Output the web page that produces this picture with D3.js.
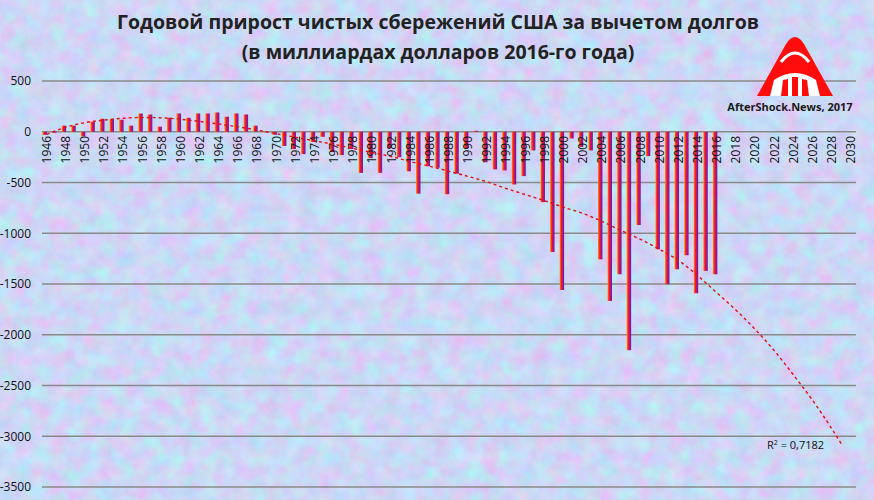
<!DOCTYPE html>
<html>
<head>
<meta charset="utf-8">
<script src="https://cdn.jsdelivr.net/npm/d3@7"></script>
<style>
  html, body { margin: 0; padding: 0; background: #ccd6f2; }
  svg { display: block; }
</style>
</head>
<body>
<svg id="chart" width="874" height="500"></svg>
<script>
// ---- data ----
const years = d3.range(1946, 2017);
const values = [
  -30, -10, 60, 60, -45, 100, 128, 125, 118, 60,
  180, 170, 50, 138, 180, 138, 180, 180, 190, 148,
  180, 170, 60, -5, -30, -140, -170, -220, -100, -50,
  -200, -230, -170, -405, -260, -405, -160, -250, -390, -610,
  -340, -355, -615, -413, -160, 10, -300, -371, -381, -519,
  -437, -184, -693, -1185, -1559, -66, -150, -184, -1257, -1667,
  -1404, -2152, -919, -240, -1158, -1503, -1355, -1217, -1591, -1371,
  -1404
];
const axisYears = d3.range(1946, 2031);           // categories on the axis
const xTickLabels = d3.range(1946, 2031, 2);
const yTicks = [500, 0, -500, -1000, -1500, -2000, -2500, -3000, -3500];
const trendYears = [1946,1948,1950,1952,1954,1956,1958,1960,1962,1964,1966,1968,1970,1972,1974,1976,1978,1980,1982,1984,1986,1988,1990,1992,1994,1996,1998,2000,2002,2004,2006,2008,2010,2012,2014,2016,2018,2020,2022,2024,2026,2028,2029];
const trendValues = [-25,45,90,115,133,141,137,123,101,76,48,16,-20,-55,-90,-125,-165,-205,-245,-295,-340,-390,-440,-495,-560,-620,-680,-745,-805,-885,-975,-1060,-1160,-1270,-1420,-1590,-1760,-1950,-2160,-2400,-2650,-2930,-3080];
const titleLines = ["Годовой прирост чистых сбережений США за вычетом долгов", "(в миллиардах долларов 2016-го года)"];
const r2Label = "0,7182";
const credit = "AfterShock.News, 2017";

// ---- drawing ----
(function () {
const svg = d3.select("#chart");
const W = 874, H = 500;
const pLeft = 42, pRight = 856, pTop = 81, pBottom = 487;

const defs = svg.append("defs");
const tex = defs.append("filter").attr("id", "tex").attr("x", 0).attr("y", 0).attr("width", 1).attr("height", 1)
  .attr("color-interpolation-filters", "sRGB");
tex.append("feTurbulence").attr("type", "fractalNoise").attr("baseFrequency", 0.06).attr("numOctaves", 3).attr("seed", 7);
tex.append("feColorMatrix").attr("type", "matrix")
  .attr("values", "0.3 0 0 0 0.65  -0.2 0.15 0 0 0.87  0 0 0.1 0 0.91  0 0 0 0 1");

const grad = defs.append("linearGradient").attr("id", "barGrad").attr("x1", "0%").attr("x2", "100%").attr("y1", "0%").attr("y2", "0%");
[["0%", "#ff9a00"], ["22%", "#ff4a08"], ["45%", "#f00a48"], ["70%", "#a8168a"], ["100%", "#5820aa"]].forEach(([o, c]) =>
  grad.append("stop").attr("offset", o).attr("stop-color", c));

svg.append("rect").attr("width", W).attr("height", H).attr("fill", "#ccd6f2");
svg.append("rect").attr("width", W).attr("height", H).attr("filter", "url(#tex)");

const x = d3.scaleBand().domain(axisYears).range([pLeft, pRight]).padding(0);
const y = d3.scaleLinear().domain([-3500, 500]).range([pBottom, pTop]);

// gridlines
svg.append("g").selectAll("line").data(yTicks).join("line")
  .attr("x1", pLeft).attr("x2", pRight)
  .attr("y1", d => y(d)).attr("y2", d => y(d))
  .attr("stroke", "#8a8a8a").attr("stroke-width", 1.4);

// y labels
const yAxis = d3.axisLeft(y).tickValues(yTicks).tickSize(0).tickPadding(0).tickFormat(d => String(d));
const gy = svg.append("g").attr("transform", `translate(31,0)`).call(yAxis);
gy.select(".domain").remove();
gy.selectAll("text").attr("font-family", "'Open Sans', sans-serif").attr("font-size", 12).attr("fill", "#111");

// bars
const bw = x.bandwidth();
svg.append("g").selectAll("rect").data(years.map((yr, i) => ({ yr, v: values[i] }))).join("rect")
  .attr("x", d => x(d.yr) + bw * 0.06)
  .attr("width", bw * 0.46)
  .attr("y", d => y(Math.max(0, d.v)))
  .attr("height", d => Math.abs(y(d.v) - y(0)))
  .attr("fill", "url(#barGrad)");

// x labels (rotated)
const gx = svg.append("g");
gx.selectAll("text").data(xTickLabels).join("text")
  .attr("transform", d => `translate(${x(d) + bw / 2 + 4},136) rotate(-90)`)
  .attr("text-anchor", "end")
  .attr("font-family", "'Open Sans', sans-serif").attr("font-size", 12).attr("fill", "#111")
  .text(d => d);

// trend line
const line = d3.line().x(d => x(d[0]) + bw / 2).y(d => y(d[1])).curve(d3.curveMonotoneX);
svg.append("path").datum(trendYears.map((yr, i) => [yr, trendValues[i]]))
  .attr("d", line).attr("fill", "none").attr("stroke", "#e01010").attr("stroke-width", 1.4)
  .attr("stroke-dasharray", "3,3");

// R² label
const r2 = svg.append("text").attr("x", 767).attr("y", 449)
  .attr("font-family", "'Open Sans', sans-serif").attr("font-size", 11).attr("fill", "#111");
r2.append("tspan").text("R");
r2.append("tspan").attr("font-size", 7).attr("dy", -4).text("2");
r2.append("tspan").attr("dy", 4).text(" = " + r2Label);

// title
svg.append("g").selectAll("text").data(titleLines).join("text")
  .attr("x", 438).attr("y", (d, i) => 29 + i * 30)
  .attr("text-anchor", "middle")
  .attr("font-family", "'Open Sans', sans-serif").attr("font-weight", "bold").attr("font-size", 19.5)
  .attr("fill", "#222").text(d => d);

// logo
const logo = svg.append("g");
logo.append("path").attr("d", "M757,96 L786,44 Q795,30 804,44 L833,96 Z").attr("fill", "#ff0d0d");
logo.append("path").attr("d", "M781,62 Q795,44 809,62").attr("fill", "none").attr("stroke", "#fff").attr("stroke-width", 3);
logo.append("path").attr("d", "M774,80 Q795,66 816,80 L820,96 L770,96 Z").attr("fill", "#fff");
logo.append("path").attr("d", "M781,96 L783,80 L788,79 L788,96 Z M792,96 L792,77 L798,77 L798,96 Z M802,96 L802,79 L807,80 L809,96 Z").attr("fill", "#ff0d0d");
svg.append("text").attr("x", 790).attr("y", 111).attr("text-anchor", "middle")
  .attr("font-family", "'Open Sans', sans-serif").attr("font-weight", "bold").attr("font-size", 11)
  .attr("fill", "#1a1a1a").text(credit);
})();
</script>
</body>
</html>
